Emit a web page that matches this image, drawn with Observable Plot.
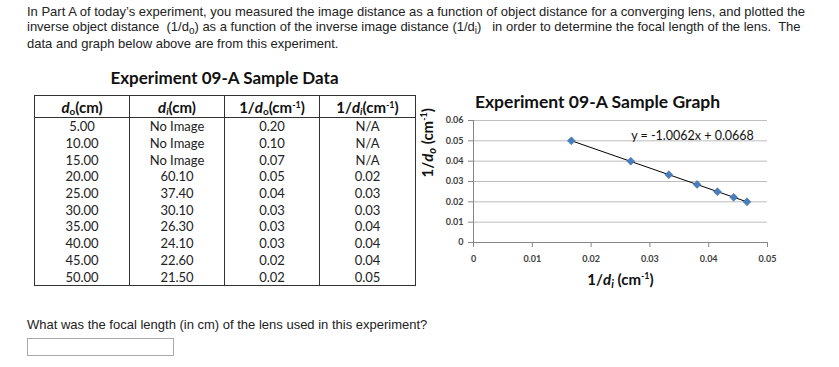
<!DOCTYPE html>
<html><head><meta charset="utf-8">
<script src="https://cdn.jsdelivr.net/npm/d3@7"></script>
<script src="https://cdn.jsdelivr.net/npm/@observablehq/plot@0.6"></script>
<style>
body{margin:0;background:#fff;}
#page{position:relative;width:839px;height:367px;overflow:hidden;font-family:"Liberation Sans",Arial,sans-serif;color:#222;background:#fff;}
.para{position:absolute;left:27px;font-size:13px;white-space:nowrap;line-height:16px;}
.para sub{font-size:10px;vertical-align:-3px;line-height:0;}
#ttitle{position:absolute;left:34px;width:381px;top:68px;text-align:center;font-family:Lato,sans-serif;font-weight:bold;font-size:17px;line-height:20px;color:#111;}
#tbl{position:absolute;left:34px;top:95px;border-collapse:collapse;table-layout:fixed;font-family:Lato,sans-serif;color:#222;}
#tbl th{height:21px;padding:0;border:1px solid #333;font-size:15px;font-weight:bold;color:#111;}
#tbl td{height:16.7px;padding:0;text-align:center;font-size:13px;border-left:1px solid #333;border-right:1px solid #333;line-height:16px;}
#tbl tr:last-child td{border-bottom:1px solid #333;}
#tbl sub{font-size:10px;vertical-align:-2px;line-height:0;}
#tbl sup{font-size:9px;vertical-align:5px;line-height:0;}
#q{position:absolute;left:27px;top:317px;font-size:13px;line-height:16px;white-space:nowrap;}
#box{position:absolute;left:27px;top:338px;width:145px;height:16px;border:1px solid #a9a9a9;}
#chart{position:absolute;left:410px;top:80px;width:429px;height:215px;}
</style>
</head><body>
<div id="page">
  <div class="para" style="top:4px">In Part A of today’s experiment, you measured the image distance as a function of object distance for a converging lens, and plotted the</div>
  <div class="para" style="top:19px">inverse object distance&nbsp; (1/d<sub>o</sub>) as a function of the inverse image distance (1/d<sub>i</sub>) &nbsp; in order to determine the focal length of the lens.&nbsp; The</div>
  <div class="para" style="top:36px">data and graph below above are from this experiment.</div>
  <div id="ttitle">Experiment 09-A Sample Data</div>
  <table id="tbl"><colgroup><col style="width:95px"><col style="width:95px"><col style="width:95px"><col style="width:96px"></colgroup>
    <thead><tr id="hdr"></tr></thead><tbody id="tb"></tbody></table>
  <div id="chart"></div>
  <div id="q">What was the focal length (in cm) of the lens used in this experiment?</div>
  <div id="box"></div>
</div>
<script>
// ---- table data ----
const headers = ["<i>d</i><sub>o</sub>(cm)", "<i>d<sub>i</sub></i>(cm)", "1/<i>d</i><sub>o</sub>(cm<sup>-1</sup>)", "1/<i>d<sub>i</sub></i>(cm<sup>-1</sup>)"];
const doCm  = ["5.00","10.00","15.00","20.00","25.00","30.00","35.00","40.00","45.00","50.00"];
const diCm  = ["No Image","No Image","No Image","60.10","37.40","30.10","26.30","24.10","22.60","21.50"];
const invDo = ["0.20","0.10","0.07","0.05","0.04","0.03","0.03","0.03","0.02","0.02"];
const invDi = ["N/A","N/A","N/A","0.02","0.03","0.03","0.04","0.04","0.04","0.05"];

// ---- graph data ----
const graphX = [0.01664, 0.02674, 0.03322, 0.03802, 0.04149, 0.04425, 0.04651]; // 1/di
const graphY = [0.05, 0.04, 0.03333, 0.02857, 0.025, 0.02222, 0.02];            // 1/do
const xTicks = [0, 0.01, 0.02, 0.03, 0.04, 0.05];
const xTickLabels = ["0", "0.01", "0.02", "0.03", "0.04", "0.05"];
const yTicks = [0, 0.01, 0.02, 0.03, 0.04, 0.05, 0.06];
const yTickLabels = ["0", "0.01", "0.02", "0.03", "0.04", "0.05", "0.06"];
const chartTitle = "Experiment 09-A Sample Graph";
const equation = "y = -1.0062x + 0.0668";
const xTitle = "1/di (cm-1)";
const yTitle = "1/do (cm-1)";

// build table
document.getElementById("hdr").innerHTML = headers.map(h => `<th>${h}</th>`).join("");
document.getElementById("tb").innerHTML = doCm.map((d, i) =>
  `<tr><td>${d}</td><td>${diCm[i]}</td><td>${invDo[i]}</td><td>${invDi[i]}</td></tr>`).join("");

// build chart
const pts = graphX.map((x, i) => ({x, y: graphY[i]}));
const F = "Lato, sans-serif";
const chart = Plot.plot({
  width: 429, height: 215,
  marginLeft: 63, marginRight: 72, marginTop: 40, marginBottom: 53,
  style: {fontFamily: F, fontSize: "9px", color: "#404040", background: "none", overflow: "visible"},
  x: {domain: [0, 0.05]},
  y: {domain: [0, 0.06]},
  marks: [
    Plot.gridY(yTicks.slice(1), {stroke: "#bdbdbd", strokeOpacity: 1}),
    Plot.ruleY([0], {stroke: "#868686"}),
    Plot.ruleX([0], {stroke: "#868686"}),
    Plot.axisY({ticks: yTicks, tickFormat: (d) => yTickLabels[yTicks.indexOf(d)], tickSize: 5, tickPadding: 5, stroke: "#868686", label: null, fontWeight: "bold", fill: "#404040"}),
    Plot.axisX({ticks: xTicks, tickFormat: (d) => xTickLabels[xTicks.indexOf(d)], tickSize: 5, tickPadding: 8, stroke: "#868686", label: null, fontWeight: "bold", fill: "#404040"}),
    Plot.linearRegressionY(pts, {x: "x", y: "y", stroke: "#000", strokeWidth: 1, ci: 0}),
    Plot.dot(pts, {x: "x", y: "y", symbol: "diamond2", r: 3.6, fill: "#4a7ebb", stroke: "#3d6ea8", strokeWidth: 0.5}),
    Plot.text([equation], {text: d => d, frameAnchor: "top", dx: 72, dy: 11, fontSize: 12.5, fill: "#111", fontFamily: F}),
    Plot.text([chartTitle], {text: d => d, frameAnchor: "top", dx: -23, dy: -25, fontSize: 17.5, fontWeight: "bold", fill: "#111", fontFamily: F}),
    Plot.text([xTitle], {text: d => d, frameAnchor: "bottom", dy: 42, fontSize: 15, fontWeight: "bold", fill: "#111", fontFamily: F}),
    Plot.text([yTitle], {text: d => d, frameAnchor: "left", dx: -45, dy: -4, rotate: -90, fontSize: 15, fontWeight: "bold", fill: "#111", fontFamily: F})
  ]
});
document.getElementById("chart").appendChild(chart);
// rich formatting of axis titles (italic d, subscripts, superscripts)
chart.querySelectorAll("text").forEach(t => {
  const s = t.textContent;
  if (s === xTitle || s === yTitle) {
    const sub = s === xTitle ? "i" : "o";
    t.innerHTML = `1/<tspan font-style="italic">d</tspan><tspan font-style="italic" font-size="11" dy="3">${sub}</tspan><tspan dy="-3"> (cm</tspan><tspan font-size="9" dy="-6">-1</tspan><tspan dy="6">)</tspan>`;
  }
});
</script>
</body></html>
